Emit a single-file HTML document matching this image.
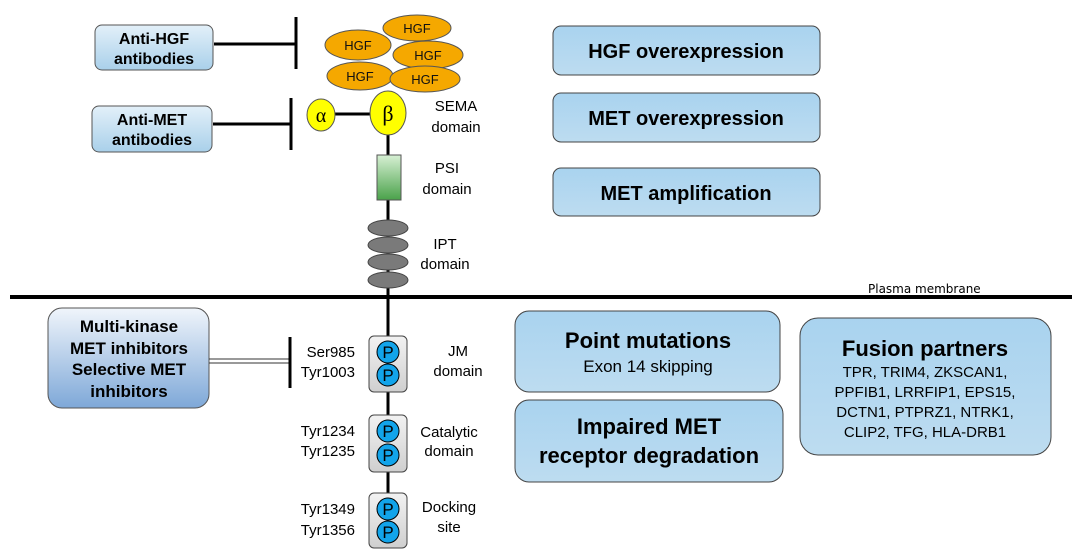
<!DOCTYPE html>
<html><head><meta charset="utf-8"><style>
html,body{margin:0;padding:0;background:#fff;}
svg{display:block;font-family:"Liberation Sans",Arial,sans-serif;}
</style></head><body>
<svg width="1080" height="558" viewBox="0 0 1080 558" xmlns="http://www.w3.org/2000/svg">
<defs>
<linearGradient id="bl" x1="0" y1="0" x2="0" y2="1"><stop offset="0" stop-color="#e3f0f9"/><stop offset="1" stop-color="#a9d0ea"/></linearGradient>
<linearGradient id="bl2" x1="0" y1="0" x2="0" y2="1"><stop offset="0" stop-color="#f0f5fb"/><stop offset="1" stop-color="#7ea8d8"/></linearGradient>
<linearGradient id="bx" x1="0" y1="0" x2="0" y2="1"><stop offset="0" stop-color="#a9d3ef"/><stop offset="1" stop-color="#bddcf0"/></linearGradient>
<linearGradient id="gr" x1="0" y1="0" x2="0" y2="1"><stop offset="0" stop-color="#d7f0d4"/><stop offset="1" stop-color="#4aa24a"/></linearGradient>
<linearGradient id="pb" x1="0" y1="0" x2="0" y2="1"><stop offset="0" stop-color="#f2f2f2"/><stop offset="1" stop-color="#cfcfcf"/></linearGradient>
</defs>
<line x1="10" y1="297" x2="1072" y2="297" stroke="#000" stroke-width="4"/>
<text x="868" y="293" font-size="12" fill="#000" font-family="DejaVu Sans, sans-serif">Plasma membrane</text>
<line x1="388" y1="130" x2="388" y2="548" stroke="#000" stroke-width="3"/>
<g fill="#f5a800" stroke="#555" stroke-width="1">
<ellipse cx="417" cy="28" rx="34" ry="13"/>
<ellipse cx="358" cy="45" rx="33" ry="15"/>
<ellipse cx="428" cy="55" rx="35" ry="14"/>
<ellipse cx="360" cy="76" rx="33" ry="14"/>
<ellipse cx="425" cy="79" rx="35" ry="13"/>
</g>
<g font-size="13" text-anchor="middle" fill="#111">
<text x="417" y="33">HGF</text><text x="358" y="50">HGF</text><text x="428" y="60">HGF</text><text x="360" y="81">HGF</text><text x="425" y="84">HGF</text>
</g>
<line x1="334" y1="114" x2="372" y2="114" stroke="#000" stroke-width="3"/>
<ellipse cx="321" cy="115" rx="14" ry="16" fill="#ffff00" stroke="#555"/>
<ellipse cx="388" cy="113" rx="18" ry="22" fill="#ffff00" stroke="#555"/>
<text x="321" y="122" font-size="20" text-anchor="middle" font-family="Liberation Serif, serif">α</text>
<text x="388" y="121" font-size="22" text-anchor="middle" font-family="Liberation Serif, serif">β</text>
<g font-size="15" text-anchor="middle">
<text x="456" y="111">SEMA</text><text x="456" y="132">domain</text>
<text x="447" y="173">PSI</text><text x="447" y="194">domain</text>
<text x="445" y="249">IPT</text><text x="445" y="269">domain</text>
</g>
<rect x="377" y="155" width="24" height="45" fill="url(#gr)" stroke="#555"/>
<g fill="#7a7a7a" stroke="#444">
<ellipse cx="388" cy="228" rx="20" ry="8"/><ellipse cx="388" cy="245" rx="20" ry="8"/><ellipse cx="388" cy="262" rx="20" ry="8"/><ellipse cx="388" cy="280" rx="20" ry="8"/>
</g>
<rect x="95" y="25" width="118" height="45" rx="7" fill="url(#bl)" stroke="#555"/>
<text x="154" y="44" font-size="16" font-weight="bold" text-anchor="middle">Anti-HGF</text>
<text x="154" y="64" font-size="16" font-weight="bold" text-anchor="middle">antibodies</text>
<line x1="214" y1="44" x2="297" y2="44" stroke="#000" stroke-width="3"/>
<line x1="296" y1="17" x2="296" y2="69" stroke="#000" stroke-width="3"/>
<rect x="92" y="106" width="120" height="46" rx="7" fill="url(#bl)" stroke="#555"/>
<text x="152" y="125" font-size="16" font-weight="bold" text-anchor="middle">Anti-MET</text>
<text x="152" y="145" font-size="16" font-weight="bold" text-anchor="middle">antibodies</text>
<line x1="213" y1="124" x2="292" y2="124" stroke="#000" stroke-width="3"/>
<line x1="291" y1="98" x2="291" y2="150" stroke="#000" stroke-width="3"/>
<rect x="48" y="308" width="161" height="100" rx="14" fill="url(#bl2)" stroke="#555"/>
<g font-size="17" font-weight="bold" text-anchor="middle">
<text x="129" y="332">Multi-kinase</text><text x="129" y="354">MET inhibitors</text><text x="129" y="375">Selective MET</text><text x="129" y="397">inhibitors</text>
</g>
<line x1="209" y1="359" x2="290" y2="359" stroke="#333" stroke-width="1"/>
<line x1="209" y1="363" x2="290" y2="363" stroke="#333" stroke-width="1"/>
<line x1="290" y1="337" x2="290" y2="388" stroke="#000" stroke-width="3"/>
<g stroke="#444">
<rect x="369" y="336" width="38" height="56" rx="5" fill="url(#pb)"/>
<rect x="369" y="415" width="38" height="57" rx="5" fill="url(#pb)"/>
<rect x="369" y="493" width="38" height="55" rx="5" fill="url(#pb)"/>
</g>
<g fill="#12a4ea" stroke="#000" stroke-width="1">
<circle cx="388" cy="352" r="11"/><circle cx="388" cy="375" r="11"/>
<circle cx="388" cy="431" r="11"/><circle cx="388" cy="455" r="11"/>
<circle cx="388" cy="509" r="11"/><circle cx="388" cy="532" r="11"/>
</g>
<g font-size="17" text-anchor="middle" fill="#000">
<text x="388" y="358">P</text><text x="388" y="381">P</text><text x="388" y="437">P</text><text x="388" y="461">P</text><text x="388" y="515">P</text><text x="388" y="538">P</text>
</g>
<g font-size="15" text-anchor="end">
<text x="355" y="357">Ser985</text><text x="355" y="377">Tyr1003</text>
<text x="355" y="436">Tyr1234</text><text x="355" y="456">Tyr1235</text>
<text x="355" y="514">Tyr1349</text><text x="355" y="535">Tyr1356</text>
</g>
<g font-size="15" text-anchor="middle">
<text x="458" y="356">JM</text><text x="458" y="376">domain</text>
<text x="449" y="437">Catalytic</text><text x="449" y="456">domain</text>
<text x="449" y="512">Docking</text><text x="449" y="532">site</text>
</g>
<g fill="url(#bx)" stroke="#444">
<rect x="553" y="26" width="267" height="49" rx="8"/>
<rect x="553" y="93" width="267" height="49" rx="8"/>
<rect x="553" y="168" width="267" height="48" rx="8"/>
<rect x="515" y="311" width="265" height="81" rx="14"/>
<rect x="515" y="400" width="268" height="82" rx="14"/>
<rect x="800" y="318" width="251" height="137" rx="18"/>
</g>
<g font-weight="bold" text-anchor="middle" font-size="20">
<text x="686" y="58">HGF overexpression</text>
<text x="686" y="125">MET overexpression</text>
<text x="686" y="200">MET amplification</text>
</g>
<g font-weight="bold" text-anchor="middle" font-size="22">
<text x="648" y="348">Point mutations</text>
<text x="649" y="434">Impaired MET</text>
<text x="649" y="463">receptor degradation</text>
<text x="925" y="356">Fusion partners</text>
</g>
<text x="648" y="372" font-size="17" text-anchor="middle">Exon 14 skipping</text>
<g font-size="15" text-anchor="middle">
<text x="925" y="377">TPR, TRIM4, ZKSCAN1,</text>
<text x="925" y="397">PPFIB1, LRRFIP1, EPS15,</text>
<text x="925" y="417">DCTN1, PTPRZ1, NTRK1,</text>
<text x="925" y="437">CLIP2, TFG, HLA-DRB1</text>
</g>
</svg>
</body></html>
